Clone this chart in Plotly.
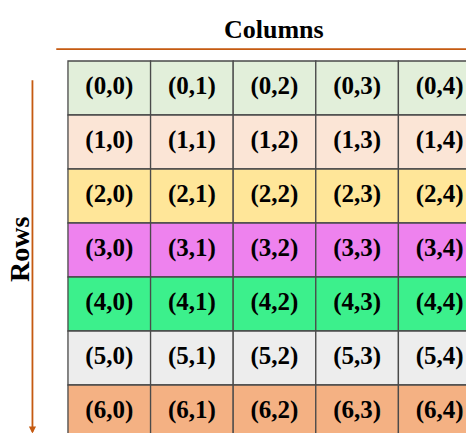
import plotly.graph_objects as go

n_rows = 7
n_cols = 5
row_colors = ["#E2EFDA", "#FBE5D6", "#FFE699", "#EE82EE", "#3CF08C", "#EDEDED", "#F4B183"]
col_title = "Columns"
row_title = "Rows"
arrow_color = "#C55A11"
font = "Liberation Serif"

fig = go.Figure()
xs, ys, texts = [], [], []
for r in range(n_rows):
    for c in range(n_cols):
        fig.add_shape(type="rect", x0=c - 0.5, x1=c + 0.5, y0=r - 0.5, y1=r + 0.5,
                      fillcolor=row_colors[r], line=dict(color="#4a4a4a", width=1.3), layer="below")
        xs.append(c); ys.append(r); texts.append(f"({r},{c})")
fig.add_trace(go.Scatter(x=xs, y=ys, text=texts, mode="text", cliponaxis=False,
                         textfont=dict(family=font, size=25, color="black", weight="bold"),
                         hoverinfo="skip"))
# arrows
fig.add_annotation(x=4.48, y=-0.72, ax=-0.66, ay=-0.72, xref="x", yref="y", axref="x", ayref="y",
                   showarrow=True, arrowhead=2, arrowsize=0.8, arrowwidth=1.8, arrowcolor=arrow_color, text="")
fig.add_annotation(x=-0.93, y=6.4, ax=-0.93, ay=-0.17, xref="x", yref="y", axref="x", ayref="y",
                   showarrow=True, arrowhead=2, arrowsize=0.8, arrowwidth=1.8, arrowcolor=arrow_color, text="")
fig.add_annotation(x=2.0, y=-1.09, xref="x", yref="y", text=col_title, showarrow=False,
                   font=dict(family=font, size=26, color="black", weight="bold"))
fig.add_annotation(x=-1.08, y=3.0, xref="x", yref="y", text=row_title, showarrow=False, textangle=-90,
                   font=dict(family=font, size=28, color="black", weight="bold"))

fig.update_layout(width=474, height=433, margin=dict(l=0, r=0, t=0, b=0, autoexpand=False),
                  paper_bgcolor="white", plot_bgcolor="white", showlegend=False,
                  xaxis=dict(range=[-1.226, 4.512], visible=False, fixedrange=True),
                  yaxis=dict(range=[6.537, -1.481], visible=False, fixedrange=True))
fig.write_html("out.html")
